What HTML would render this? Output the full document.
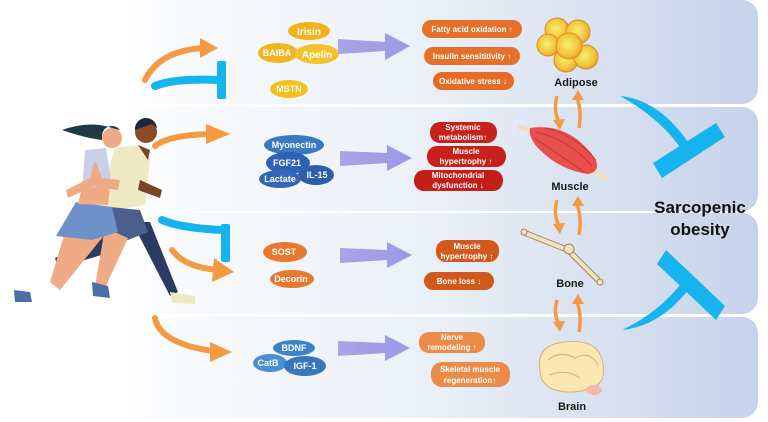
<!DOCTYPE html>
<html><head><meta charset="utf-8"><style>
html,body{margin:0;padding:0;background:#fff}
svg{display:block}
text{font-family:"Liberation Sans",Arial,sans-serif;font-weight:bold}
</style></head><body>
<svg width="768" height="422" viewBox="0 0 768 422" xmlns="http://www.w3.org/2000/svg">
<defs>
<linearGradient id="bg" gradientUnits="userSpaceOnUse" x1="120" x2="758" y1="0" y2="0">
<stop offset="0" stop-color="#ffffff"/><stop offset="0.1" stop-color="#f8fafc"/><stop offset="0.5" stop-color="#eaeff7"/><stop offset="1" stop-color="#c6d3ea"/>
</linearGradient>
<linearGradient id="pur" x1="0" x2="1"><stop offset="0" stop-color="#a8a4e6"/><stop offset="1" stop-color="#9e98e4"/></linearGradient>
<radialGradient id="fat" cx="0.45" cy="0.45" r="0.6"><stop offset="0" stop-color="#f6f070"/><stop offset="0.7" stop-color="#f2c23a"/><stop offset="1" stop-color="#e39a2a"/></radialGradient>
</defs>
<path d="M120 0H742a16 16 0 0 1 16 16V88a16 16 0 0 1-16 16H120Z" fill="url(#bg)"/>
<path d="M120 107H742a16 16 0 0 1 16 16V195a16 16 0 0 1-16 16H120Z" fill="url(#bg)"/>
<path d="M120 213H742a16 16 0 0 1 16 16V298a16 16 0 0 1-16 16H120Z" fill="url(#bg)"/>
<path d="M120 317H742a16 16 0 0 1 16 16V402a16 16 0 0 1-16 16H120Z" fill="url(#bg)"/>

<g>
<path d="M110 235L55 258L58 268L118 250Z" fill="#2a3a60"/>
<path d="M132 222L150 222L178 292L170 296Z" fill="#2a3a60"/>
<path d="M170 292L195 296L195 304L172 303Z" fill="#efe9c8"/>
<path d="M115 148L138 145L150 160L145 205L100 212L110 165Z" fill="#efe9c4"/>
<path d="M100 206L140 210L148 232L128 240L95 240Z" fill="#4a5f8f"/>
<path d="M140 180L162 190L160 198L138 190Z" fill="#7a4426"/>
<path d="M138 145L150 150L148 160Z" fill="#7a4426"/>
<circle cx="146" cy="132" r="11" fill="#8a4a2a"/>
<path d="M135 130a11 11 0 0 1 22-2L152 124Z" fill="#1a2a3a"/>
<path d="M65 232L110 228L60 290L50 282Z" fill="#eeab85"/>
<path d="M105 228L128 238L105 288L95 286Z" fill="#eeab85"/>
<path d="M14 290L30 292L32 302L15 302Z" fill="#4a6fa8"/>
<path d="M92 282L108 286L110 298L93 296Z" fill="#4a6fa8"/>
<path d="M76 202L112 207L118 232L92 240L56 236Z" fill="#6e92c8"/>
<path d="M85 150L106 148L112 186L82 190Z" fill="#c8d0ea"/>
<path d="M82 188L110 186L108 205L78 204Z" fill="#eeab85"/>
<path d="M95 160L90 178L66 190L68 198L94 186L118 190L120 180L102 178Z" fill="#eeab85"/>
<circle cx="112" cy="138" r="10" fill="#eeab85"/>
<path d="M102 136a10 10 0 0 1 18-6L112 128Q90 120 62 130Q85 138 102 140Z" fill="#1e3a44"/>
</g>

<g fill="none" stroke-linecap="round">
<path d="M145 80Q160 50 205 48" stroke="#f49a42" stroke-width="6"/>
<path d="M155 86Q175 78 218 80" stroke="#16b4ee" stroke-width="8"/>
<path d="M155 146Q170 134 218 134" stroke="#f49a42" stroke-width="6"/>
<path d="M162 220Q180 228 222 230" stroke="#16b4ee" stroke-width="8"/>
<path d="M172 250Q185 268 220 270" stroke="#f49a42" stroke-width="6"/>
<path d="M155 318Q160 345 220 352" stroke="#f49a42" stroke-width="6"/>
</g>
<g fill="#f49a42">
<path d="M200 38L218 48L200 58Z"/><path d="M206 124L230 134L206 144Z"/>
<path d="M214 258L234 272L212 282Z"/><path d="M210 342L232 352L210 362Z"/>
</g>
<rect x="217" y="61" width="9" height="38" rx="2" fill="#16b4ee"/>
<rect x="221" y="224" width="9" height="38" rx="2" fill="#16b4ee"/>

<g font-size="9" fill="#fff" text-anchor="middle">
<ellipse cx="309" cy="31" rx="21" ry="9" fill="#f0b31a"/><text x="309" y="35" font-size="10">Irisin</text>
<ellipse cx="278" cy="53" rx="20" ry="10" fill="#f2b522"/><text x="277" y="56">BAIBA</text>
<ellipse cx="317" cy="54" rx="22" ry="10" fill="#f4c22a"/><text x="317" y="58" font-size="10">Apelin</text>
<ellipse cx="289" cy="89" rx="19" ry="9" fill="#f4c01e"/><text x="289" y="92">MSTN</text>

<ellipse cx="294" cy="145" rx="30" ry="10" fill="#3a78c0"/><text x="294" y="148">Myonectin</text>
<ellipse cx="316" cy="175" rx="18" ry="10" fill="#2d5cad"/><text x="317" y="178">IL-15</text>
<ellipse cx="288" cy="163" rx="22" ry="11" fill="#2f62b5"/><text x="287" y="166">FGF21</text>
<ellipse cx="280" cy="179" rx="21" ry="9" fill="#3466b8"/><text x="280" y="182">Lactate</text>

<ellipse cx="285" cy="252" rx="22" ry="10" fill="#e8782e"/><text x="284" y="255">SOST</text>
<ellipse cx="292" cy="279" rx="22" ry="9" fill="#e8782e"/><text x="291" y="282">Decorin</text>

<ellipse cx="294" cy="348" rx="21" ry="8" fill="#3d82c8"/><text x="294" y="351">BDNF</text>
<ellipse cx="270" cy="363" rx="17" ry="9" fill="#4a8fd0"/><text x="268" y="366">CatB</text>
<ellipse cx="305" cy="366" rx="21" ry="10" fill="#3577c0"/><text x="305" y="369">IGF-1</text>
</g>

<g fill="url(#pur)">
<path d="M338 39L385 42L385 33L410 46L385 60L385 51L338 54Z"/>
<path d="M340 151L387 153L387 145L412 158L387 171L387 163L340 166Z"/>
<path d="M340 248L387 250L387 242L412 255L387 268L387 260L340 263Z"/>
<path d="M338 341L385 343L385 335L410 348L385 361L385 353L338 356Z"/>
</g>

<g font-size="8" fill="#fff" text-anchor="middle">
<rect x="422" y="20" width="100" height="18" rx="9" fill="#e6702a"/><text x="472" y="32">Fatty acid oxidation ↑</text>
<rect x="424" y="47" width="96" height="18" rx="9" fill="#e6702a"/><text x="472" y="59">Insulin sensititivity ↑</text>
<rect x="433" y="72" width="81" height="18" rx="9" fill="#e66c26"/><text x="473" y="84">Oxidative stress ↓</text>

<rect x="430" y="122" width="67" height="21" rx="10" fill="#c8201a"/><text x="463" y="130">Systemic</text><text x="463" y="140">metabolism↑</text>
<rect x="427" y="146" width="79" height="21" rx="10" fill="#c8201a"/><text x="466" y="154">Muscle</text><text x="466" y="164">hypertrophy ↑</text>
<rect x="414" y="170" width="89" height="21" rx="10" fill="#c41e18"/><text x="458" y="178">Mitochondrial</text><text x="458" y="188">dysfunction ↓</text>

<rect x="436" y="240" width="63" height="22" rx="10" fill="#d2581c"/><text x="467" y="249">Muscle</text><text x="467" y="259">hypertrophy ↑</text>
<rect x="424" y="272" width="70" height="18" rx="9" fill="#d2581c"/><text x="459" y="284">Bone loss ↓</text>

<rect x="419" y="332" width="66" height="21" rx="10" fill="#ec8a48"/><text x="452" y="340">Nerve</text><text x="452" y="350">remodeling ↑</text>
<rect x="431" y="362" width="79" height="25" rx="11" fill="#ec8a48"/><text x="470" y="372">Skeletal muscle</text><text x="470" y="383">regeneration↑</text>
</g>

<g stroke="#e08a20" stroke-width="1">
<circle cx="557" cy="30" r="12" fill="url(#fat)"/>
<circle cx="548" cy="45" r="11" fill="url(#fat)"/>
<circle cx="578" cy="32" r="12" fill="url(#fat)"/>
<circle cx="566" cy="60" r="12" fill="url(#fat)"/>
<circle cx="586" cy="57" r="12" fill="url(#fat)"/>
<circle cx="569" cy="46" r="13" fill="url(#fat)"/>
</g>
<path d="M520 127L532 131" stroke="#f1dcc0" stroke-width="4" stroke-linecap="round"/>
<path d="M592 170L606 178" stroke="#f1dcc0" stroke-width="4" stroke-linecap="round"/>
<path d="M530 128Q570 122 596 160Q600 172 588 174Q560 170 540 150Q528 138 530 128Z" fill="#e84e4a"/>
<path d="M536 132Q570 140 592 166M534 138Q560 155 584 172M545 128Q575 135 596 160" stroke="#c03434" stroke-width="0.8" fill="none"/>
<path d="M525 233L568 250L598 280" stroke="#a88858" stroke-width="6" fill="none" stroke-linecap="round"/>
<path d="M525 233L568 250L598 280" stroke="#f0e2c4" stroke-width="4" fill="none" stroke-linecap="round"/>
<circle cx="569" cy="249" r="5" fill="#f0e2c4" stroke="#a88858"/>
<circle cx="524" cy="232" r="3" fill="#f0e2c4" stroke="#a88858"/>
<circle cx="600" cy="282" r="3" fill="#f0e2c4" stroke="#a88858"/>
<path d="M540 370Q535 345 565 342Q600 338 603 365Q606 385 590 388Q575 395 555 390Q540 385 540 370Z" fill="#fbe6b4" stroke="#d9b070"/>
<path d="M548 360Q560 350 575 358Q590 350 598 365M550 375Q565 368 580 378" stroke="#d9b070" fill="none"/>
<ellipse cx="594" cy="390" rx="8" ry="5" fill="#f4b8a8"/>

<g font-size="11" fill="#1a1a1a" text-anchor="middle">
<text x="576" y="86">Adipose</text>
<text x="570" y="190">Muscle</text>
<text x="570" y="287">Bone</text>
<text x="572" y="410">Brain</text>
</g>
<g stroke="#f49a42" stroke-width="3.5" fill="none">
<path d="M557 96Q553 110 559 122"/><path d="M579 128Q582 112 577 98"/>
<path d="M557 200Q553 214 559 226"/><path d="M579 235Q582 218 577 204"/>
<path d="M557 300Q553 314 559 324"/><path d="M579 332Q582 316 577 302"/>
</g>
<g fill="#f49a42">
<path d="M553 120L560 130L565 119Z"/><path d="M572 100L578 90L584 100Z"/>
<path d="M553 224L560 234L565 223Z"/><path d="M572 206L578 196L584 206Z"/>
<path d="M553 322L560 332L565 321Z"/><path d="M572 304L578 294L584 304Z"/>
</g>

<path d="M620 96Q660 100 690 145L682 150Q660 118 620 96Z" fill="#16b4ee"/>
<path d="M653 163L716 123L725 137L662 178Z" fill="#16b4ee"/>
<path d="M622 330Q662 326 692 285L684 280Q660 312 622 330Z" fill="#16b4ee"/>
<path d="M657 264L666 250L725 306L716 320Z" fill="#16b4ee"/>

<text x="700" y="213" font-size="17" fill="#111" text-anchor="middle">Sarcopenic</text>
<text x="700" y="235" font-size="17" fill="#111" text-anchor="middle">obesity</text>
</svg>
</body></html>
